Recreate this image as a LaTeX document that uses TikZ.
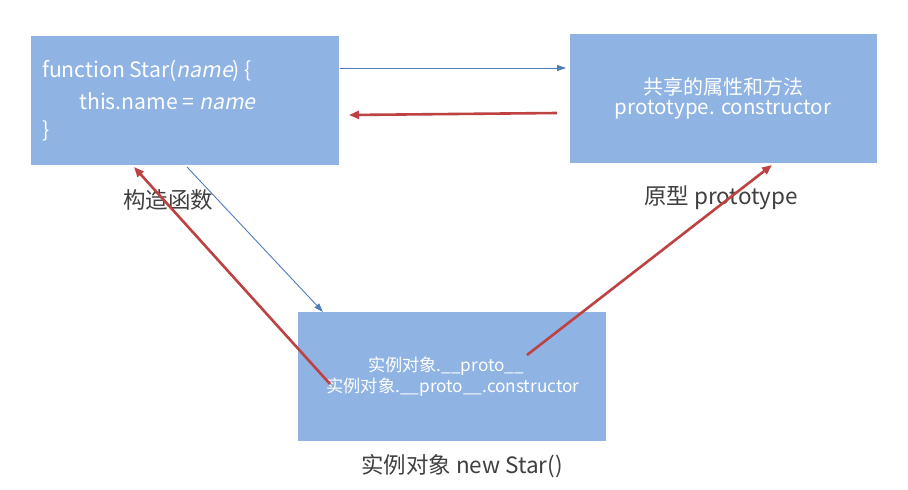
\documentclass[tikz,border=0pt]{standalone}
\usepackage{fontspec}
\setmainfont{Noto Sans CJK SC}[AutoFakeSlant=0.2]
\usetikzlibrary{arrows.meta}
\definecolor{boxblue}{RGB}{143,179,226}
\definecolor{redarr}{RGB}{190,66,66}
\definecolor{bluearr}{RGB}{79,125,185}
\definecolor{labelgray}{RGB}{64,64,64}
\tikzset{
  box/.style={rectangle, fill=boxblue, draw=none, inner sep=0pt, minimum width=308pt, minimum height=129pt},
  boxtext/.style={text=white, inner sep=0pt},
  lbl/.style={text=labelgray, inner sep=0pt, font=\fontsize{22.5}{26}\selectfont},
  thinarr/.style={draw=bluearr, line width=0.9pt, -{Triangle[length=9pt,width=6pt]}},
  thickarr/.style={draw=redarr, line width=2.6pt, -{Triangle[length=10pt,width=8pt]}}
}
\begin{document}
\begin{tikzpicture}[x=1pt,y=-1pt]
\useasboundingbox[fill=white] (0,0) rectangle (908,490);
% boxes
\node[box] (A) at (185,100.5) {};
\node[box, minimum width=307pt] (B) at (723.5,98) {};
\node[box, minimum width=308pt] (C) at (452,376) {};
% text in A
\node[boxtext, anchor=west, font=\fontsize{21.2}{25}\selectfont] (A1) at (42,71) {function Star(\textit{name}) \{};
\node[boxtext, anchor=west, font=\fontsize{21.2}{25}\selectfont] (A2) at (79,101) {this.name = \textit{name}};
\node[boxtext, anchor=west, font=\fontsize{21.2}{25}\selectfont] (A3) at (42,131) {\}};
% text in B
\node[boxtext, font=\fontsize{20}{24}\selectfont] (B1) at (723,87) {共享的属性和方法};
\node[boxtext, font=\fontsize{20.5}{24}\selectfont] (B2) at (723,110) {prototype. constructor};
% text in C
\node[boxtext, font=\fontsize{17.2}{20}\selectfont] (C1) at (446,366) {实例对象.\_\_proto\_\_};
\node[boxtext, font=\fontsize{17.2}{20}\selectfont] (C2) at (453,387) {实例对象.\_\_proto\_\_.constructor};
% labels
\node[lbl] (LA) at (168,200) {构造函数};
\node[lbl] (LB) at (721,198) {原型 prototype};
\node[lbl] (LC) at (462,466) {实例对象 new Star()};
% connector endpoints
\coordinate (a1) at (340,68);
\coordinate (b1) at (566,68);
\coordinate (b2) at (557,113);
\coordinate (a2) at (349,115);
\coordinate (a3) at (187,167);
\coordinate (c3) at (323,312);
\coordinate (c4) at (330,384);
\coordinate (a4) at (134,167);
\coordinate (c5) at (527,355);
\coordinate (b5) at (772,165);
% connectors
\draw[thinarr] (a1) -- (b1);
\draw[thickarr] (b2) -- (a2);
\draw[thinarr] (a3) -- (c3);
\draw[thickarr] (c4) -- (a4);
\draw[thickarr] (c5) -- (b5);
\end{tikzpicture}
\end{document}
